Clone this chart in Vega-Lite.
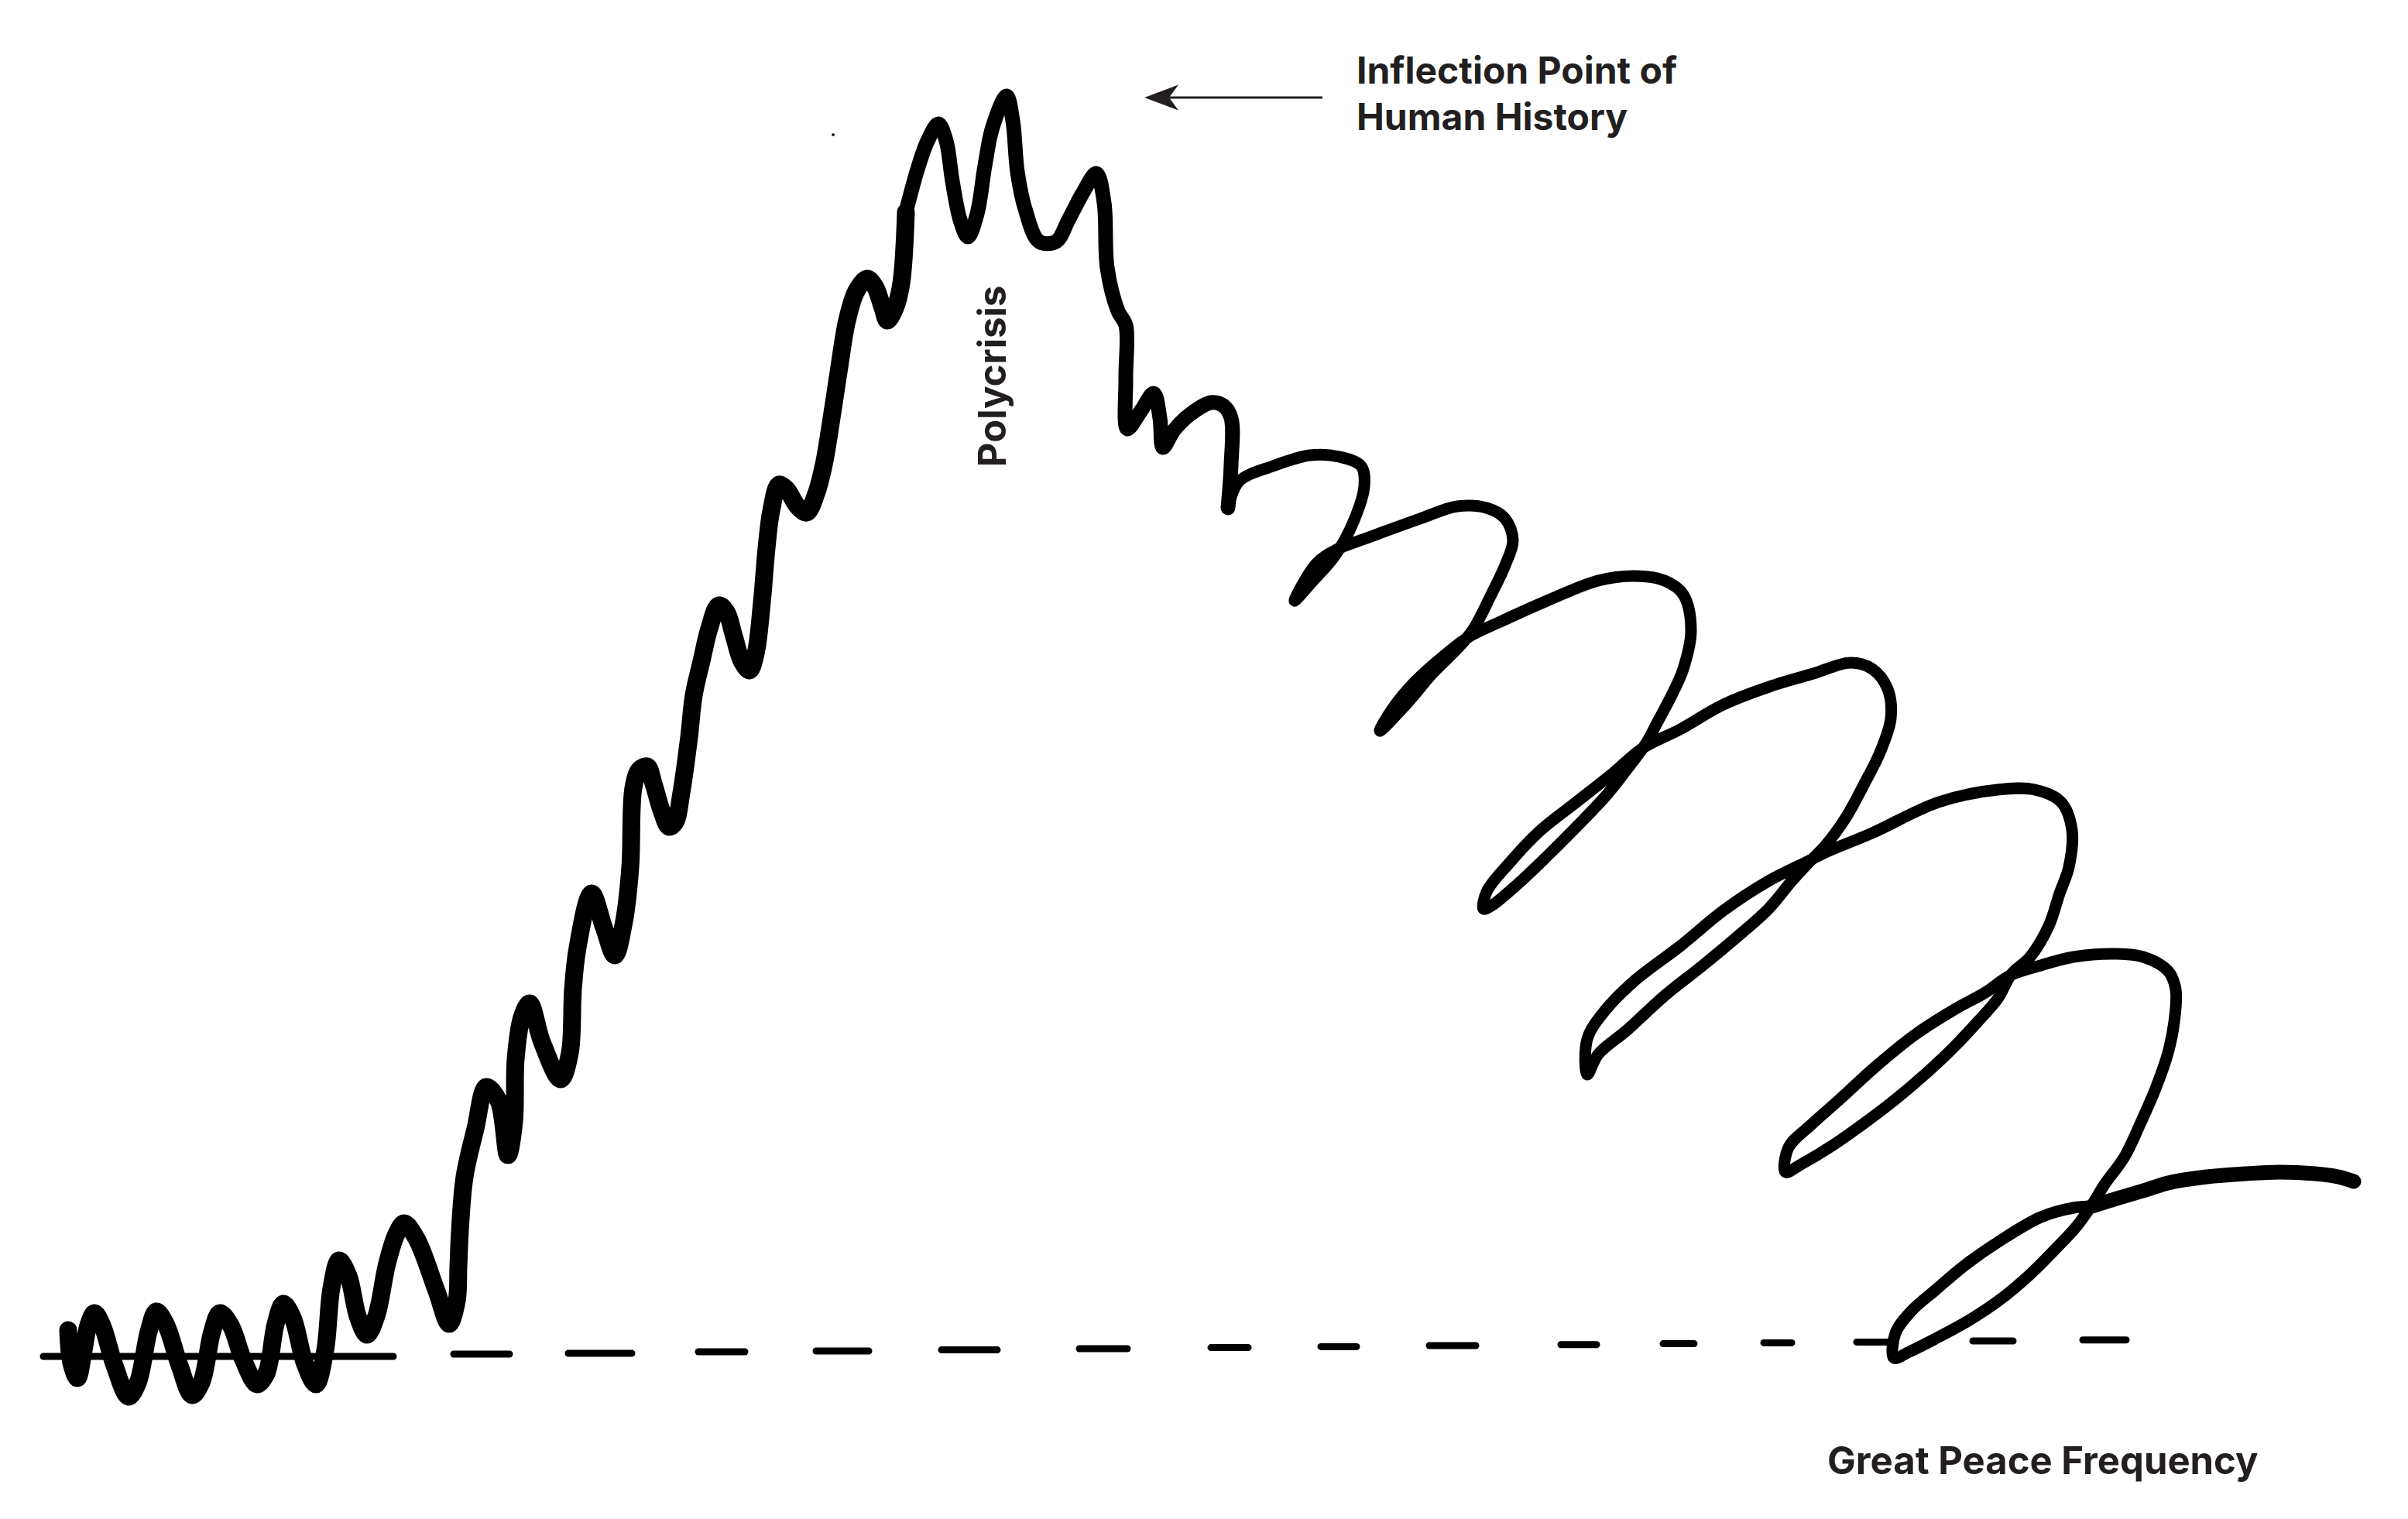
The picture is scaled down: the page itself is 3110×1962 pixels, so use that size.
{
"$schema": "https://vega.github.io/schema/vega-lite/v6.json",
"width": 3110, "height": 1962,
"autosize": {"type": "fit", "contains": "padding"},
"padding": 0,
"background": "white",
"config": {"view": {"stroke": null}},
"datasets": {
"curve": [
{"i":1,"x":44,"y":859,"s":"a"},{"i":2,"x":46,"y":880,"s":"a"},{"i":3,"x":50,"y":890,"s":"a"},{"i":4,"x":54,"y":872,"s":"a"},{"i":5,"x":57,"y":856,"s":"a"},{"i":6,"x":61,"y":848,"s":"a"},{"i":7,"x":66,"y":856,"s":"a"},{"i":8,"x":74,"y":882,"s":"a"},{"i":9,"x":83,"y":902,"s":"a"},{"i":10,"x":89,"y":893,"s":"a"},
{"i":11,"x":96,"y":860,"s":"a"},{"i":12,"x":101,"y":847,"s":"a"},{"i":13,"x":107,"y":855,"s":"a"},{"i":14,"x":116,"y":882,"s":"a"},{"i":15,"x":124,"y":901,"s":"a"},{"i":16,"x":130,"y":893,"s":"a"},{"i":17,"x":137,"y":860,"s":"a"},{"i":18,"x":142,"y":848,"s":"a"},{"i":19,"x":149,"y":856,"s":"a"},{"i":20,"x":157,"y":878,"s":"a"},
{"i":21,"x":166,"y":894,"s":"a"},{"i":22,"x":172,"y":887,"s":"a"},{"i":23,"x":178,"y":855,"s":"a"},{"i":24,"x":183,"y":842,"s":"a"},{"i":25,"x":189,"y":851,"s":"a"},{"i":26,"x":197,"y":881,"s":"a"},{"i":27,"x":204,"y":894,"s":"a"},{"i":28,"x":210,"y":872,"s":"a"},{"i":29,"x":214,"y":832,"s":"a"},{"i":30,"x":219,"y":814,"s":"a"},
{"i":31,"x":225,"y":824,"s":"a"},{"i":32,"x":231,"y":850,"s":"a"},{"i":33,"x":237,"y":862,"s":"a"},{"i":34,"x":243,"y":850,"s":"a"},{"i":35,"x":250,"y":816,"s":"a"},{"i":36,"x":256,"y":797,"s":"a"},{"i":37,"x":261,"y":790,"s":"a"},{"i":38,"x":269,"y":800,"s":"a"},{"i":39,"x":282,"y":834,"s":"a"},{"i":40,"x":290,"y":855,"s":"a"},
{"i":41,"x":295,"y":840,"s":"a"},{"i":42,"x":296,"y":818,"s":"a"},{"i":43,"x":297,"y":795,"s":"a"},{"i":44,"x":300,"y":760,"s":"a"},{"i":45,"x":307,"y":729,"s":"a"},{"i":46,"x":314,"y":702,"s":"a"},{"i":47,"x":322,"y":711,"s":"a"},{"i":48,"x":328,"y":746,"s":"a"},{"i":49,"x":332,"y":724,"s":"a"},{"i":50,"x":333,"y":684,"s":"a"},
{"i":51,"x":337,"y":657,"s":"a"},{"i":52,"x":342,"y":648,"s":"a"},{"i":53,"x":350,"y":673,"s":"a"},{"i":54,"x":362,"y":697,"s":"a"},{"i":55,"x":368,"y":680,"s":"a"},{"i":56,"x":370,"y":639,"s":"a"},{"i":57,"x":373,"y":612,"s":"a"},{"i":58,"x":382,"y":577,"s":"a"},{"i":59,"x":390,"y":599,"s":"a"},{"i":60,"x":397,"y":617,"s":"a"},
{"i":61,"x":403,"y":595,"s":"a"},{"i":62,"x":407,"y":560,"s":"a"},{"i":63,"x":409,"y":509,"s":"a"},{"i":64,"x":413,"y":497,"s":"a"},{"i":65,"x":418,"y":495,"s":"a"},{"i":66,"x":422,"y":506,"s":"a"},{"i":67,"x":427,"y":523,"s":"a"},{"i":68,"x":432,"y":534,"s":"a"},{"i":69,"x":436,"y":531,"s":"a"},{"i":70,"x":440,"y":512,"s":"a"},
{"i":71,"x":445,"y":476,"s":"a"},{"i":72,"x":448,"y":449,"s":"a"},{"i":73,"x":453,"y":427,"s":"a"},{"i":74,"x":458,"y":406,"s":"a"},{"i":75,"x":464,"y":391,"s":"a"},{"i":76,"x":469,"y":395,"s":"a"},{"i":77,"x":474,"y":411,"s":"a"},{"i":78,"x":479,"y":427,"s":"a"},{"i":79,"x":484,"y":433,"s":"a"},{"i":80,"x":488,"y":422,"s":"a"},
{"i":81,"x":492,"y":389,"s":"a"},{"i":82,"x":495,"y":354,"s":"a"},{"i":83,"x":498,"y":330,"s":"a"},{"i":84,"x":503,"y":313,"s":"a"},{"i":85,"x":508,"y":316,"s":"a"},{"i":86,"x":515,"y":327,"s":"a"},{"i":87,"x":521,"y":331,"s":"a"},{"i":88,"x":527,"y":319,"s":"a"},{"i":89,"x":532,"y":300,"s":"a"},{"i":90,"x":537,"y":270,"s":"a"},
{"i":91,"x":542,"y":237,"s":"a"},{"i":92,"x":547,"y":207,"s":"a"},{"i":93,"x":553,"y":188,"s":"a"},{"i":94,"x":560,"y":180,"s":"a"},{"i":95,"x":565,"y":185,"s":"a"},{"i":96,"x":570,"y":199,"s":"a"},{"i":97,"x":573,"y":207,"s":"a"},{"i":98,"x":578,"y":199,"s":"a"},{"i":99,"x":582,"y":183,"s":"a"},{"i":100,"x":585,"y":137,"s":"a"},
{"i":100,"x":585,"y":137,"s":"b"},{"i":101,"x":592,"y":111,"s":"b"},{"i":102,"x":599,"y":91,"s":"b"},{"i":103,"x":606,"y":80,"s":"b"},{"i":104,"x":611,"y":91,"s":"b"},{"i":105,"x":615,"y":117,"s":"b"},{"i":106,"x":620,"y":142,"s":"b"},{"i":107,"x":625,"y":153,"s":"b"},{"i":108,"x":631,"y":138,"s":"b"},{"i":109,"x":636,"y":107,"s":"b"},
{"i":110,"x":641,"y":82,"s":"b"},{"i":111,"x":650,"y":62,"s":"b"},{"i":112,"x":654,"y":78,"s":"b"},{"i":113,"x":657,"y":111,"s":"b"},{"i":114,"x":662,"y":135,"s":"b"},{"i":115,"x":671,"y":156,"s":"b"},{"i":116,"x":682,"y":156,"s":"b"},{"i":117,"x":690,"y":142,"s":"b"},{"i":118,"x":699,"y":125,"s":"b"},{"i":119,"x":708,"y":112,"s":"b"},
{"i":120,"x":713,"y":131,"s":"b"},{"i":121,"x":715,"y":173,"s":"b"},{"i":122,"x":722,"y":201,"s":"b"},{"i":123,"x":727,"y":210,"s":"b"},{"i":124,"x":727,"y":244,"s":"b"},{"i":125,"x":728,"y":277,"s":"b"},{"i":126,"x":737,"y":265,"s":"b"},{"i":127,"x":745,"y":254,"s":"b"},{"i":128,"x":749,"y":270,"s":"b"},{"i":129,"x":751,"y":289,"s":"b"},
{"i":130,"x":758,"y":278,"s":"b"},{"i":131,"x":768,"y":268,"s":"b"},{"i":132,"x":782,"y":260,"s":"b"},{"i":133,"x":790,"y":262,"s":"b"},{"i":134,"x":795,"y":270,"s":"b"},{"i":135,"x":795,"y":300,"s":"b"},{"i":136,"x":793,"y":328,"s":"b"},
{"i":136,"x":793,"y":328,"s":"c"},{"i":137,"x":800,"y":311,"s":"c"},{"i":138,"x":822,"y":301,"s":"c"},{"i":139,"x":846,"y":294,"s":"c"},{"i":140,"x":865,"y":295,"s":"c"},{"i":141,"x":879,"y":301,"s":"c"},{"i":142,"x":881,"y":314,"s":"c"},{"i":143,"x":874,"y":337,"s":"c"},{"i":144,"x":862,"y":359,"s":"c"},{"i":145,"x":848,"y":375,"s":"c"},
{"i":146,"x":836,"y":388,"s":"c"},{"i":147,"x":850,"y":364,"s":"c"},{"i":148,"x":863,"y":355,"s":"c"},{"i":149,"x":884,"y":347,"s":"c"},{"i":150,"x":917,"y":335,"s":"c"},{"i":151,"x":941,"y":327,"s":"c"},{"i":152,"x":960,"y":328,"s":"c"},{"i":153,"x":972,"y":335,"s":"c"},{"i":154,"x":977,"y":349,"s":"c"},{"i":155,"x":972,"y":365,"s":"c"},
{"i":156,"x":963,"y":384,"s":"c"},{"i":157,"x":951,"y":407,"s":"c"},{"i":158,"x":941,"y":419,"s":"c"},{"i":159,"x":925,"y":435,"s":"c"},{"i":160,"x":908,"y":455,"s":"c"},{"i":161,"x":891,"y":472,"s":"c"},{"i":162,"x":899,"y":458,"s":"c"},{"i":163,"x":913,"y":441,"s":"c"},{"i":164,"x":933,"y":423,"s":"c"},{"i":165,"x":949,"y":411,"s":"c"},
{"i":166,"x":970,"y":401,"s":"c"},{"i":167,"x":999,"y":388,"s":"c"},{"i":168,"x":1032,"y":375,"s":"c"},{"i":169,"x":1056,"y":372,"s":"c"},{"i":170,"x":1075,"y":375,"s":"c"},{"i":171,"x":1087,"y":384,"s":"c"},{"i":172,"x":1092,"y":407,"s":"c"},{"i":173,"x":1087,"y":432,"s":"c"},{"i":174,"x":1080,"y":448,"s":"c"},{"i":175,"x":1070,"y":467,"s":"c"},
{"i":176,"x":1063,"y":480,"s":"c"},{"i":177,"x":1049,"y":499,"s":"c"},{"i":178,"x":1037,"y":514,"s":"c"},{"i":179,"x":1018,"y":534,"s":"c"},{"i":180,"x":999,"y":553,"s":"c"},{"i":181,"x":980,"y":571,"s":"c"},{"i":182,"x":963,"y":585,"s":"c"},{"i":183,"x":958,"y":587,"s":"c"},{"i":184,"x":960,"y":576,"s":"c"},{"i":185,"x":975,"y":557,"s":"c"},
{"i":186,"x":994,"y":537,"s":"c"},{"i":187,"x":1018,"y":518,"s":"c"},{"i":188,"x":1042,"y":499,"s":"c"},{"i":189,"x":1061,"y":483,"s":"c"},{"i":190,"x":1085,"y":471,"s":"c"},{"i":191,"x":1113,"y":455,"s":"c"},{"i":192,"x":1147,"y":442,"s":"c"},{"i":193,"x":1171,"y":435,"s":"c"},{"i":194,"x":1195,"y":428,"s":"c"},{"i":195,"x":1209,"y":432,"s":"c"},
{"i":196,"x":1219,"y":445,"s":"c"},{"i":197,"x":1221,"y":464,"s":"c"},{"i":198,"x":1214,"y":486,"s":"c"},{"i":199,"x":1204,"y":506,"s":"c"},{"i":200,"x":1192,"y":528,"s":"c"},{"i":201,"x":1178,"y":547,"s":"c"},{"i":202,"x":1168,"y":557,"s":"c"},{"i":203,"x":1157,"y":569,"s":"c"},{"i":204,"x":1142,"y":587,"s":"c"},{"i":205,"x":1123,"y":604,"s":"c"},
{"i":206,"x":1099,"y":624,"s":"c"},{"i":207,"x":1075,"y":643,"s":"c"},{"i":208,"x":1051,"y":665,"s":"c"},{"i":209,"x":1032,"y":681,"s":"c"},{"i":210,"x":1025,"y":694,"s":"c"},{"i":211,"x":1025,"y":671,"s":"c"},{"i":212,"x":1037,"y":652,"s":"c"},{"i":213,"x":1056,"y":633,"s":"c"},{"i":214,"x":1085,"y":611,"s":"c"},{"i":215,"x":1113,"y":588,"s":"c"},
{"i":216,"x":1142,"y":569,"s":"c"},{"i":217,"x":1166,"y":557,"s":"c"},{"i":218,"x":1180,"y":550,"s":"c"},{"i":219,"x":1209,"y":538,"s":"c"},{"i":220,"x":1252,"y":518,"s":"c"},{"i":221,"x":1290,"y":510,"s":"c"},{"i":222,"x":1314,"y":510,"s":"c"},{"i":223,"x":1331,"y":518,"s":"c"},{"i":224,"x":1338,"y":536,"s":"c"},{"i":225,"x":1336,"y":560,"s":"c"},
{"i":226,"x":1330,"y":577,"s":"c"},{"i":227,"x":1323,"y":598,"s":"c"},{"i":228,"x":1311,"y":618,"s":"c"},{"i":229,"x":1299,"y":629,"s":"c"},{"i":230,"x":1290,"y":645,"s":"c"},{"i":231,"x":1277,"y":660,"s":"c"},{"i":232,"x":1262,"y":676,"s":"c"},{"i":233,"x":1244,"y":693,"s":"c"},{"i":234,"x":1224,"y":710,"s":"c"},{"i":235,"x":1203,"y":726,"s":"c"},
{"i":236,"x":1183,"y":740,"s":"c"},{"i":237,"x":1163,"y":752,"s":"c"},{"i":238,"x":1153,"y":757,"s":"c"},{"i":239,"x":1155,"y":741,"s":"c"},{"i":240,"x":1170,"y":726,"s":"c"},{"i":241,"x":1188,"y":710,"s":"c"},{"i":242,"x":1211,"y":689,"s":"c"},{"i":243,"x":1237,"y":668,"s":"c"},{"i":244,"x":1262,"y":652,"s":"c"},{"i":245,"x":1282,"y":641,"s":"c"},
{"i":246,"x":1298,"y":630,"s":"c"},{"i":247,"x":1316,"y":624,"s":"c"},{"i":248,"x":1339,"y":618,"s":"c"},{"i":249,"x":1367,"y":616,"s":"c"},{"i":250,"x":1384,"y":618,"s":"c"},{"i":251,"x":1400,"y":627,"s":"c"},{"i":252,"x":1405,"y":639,"s":"c"},{"i":253,"x":1404,"y":660,"s":"c"},{"i":254,"x":1400,"y":680,"s":"c"},{"i":255,"x":1392,"y":703,"s":"c"},
{"i":256,"x":1382,"y":726,"s":"c"},{"i":257,"x":1372,"y":747,"s":"c"},{"i":258,"x":1359,"y":765,"s":"c"},{"i":259,"x":1351,"y":778,"s":"c"},{"i":260,"x":1341,"y":792,"s":"c"},{"i":261,"x":1327,"y":807,"s":"c"},{"i":262,"x":1311,"y":823,"s":"c"},{"i":263,"x":1292,"y":839,"s":"c"},{"i":264,"x":1271,"y":853,"s":"c"},{"i":265,"x":1249,"y":865,"s":"c"},
{"i":266,"x":1233,"y":873,"s":"c"},{"i":267,"x":1223,"y":877,"s":"c"},{"i":268,"x":1224,"y":861,"s":"c"},{"i":269,"x":1234,"y":847,"s":"c"},{"i":270,"x":1250,"y":833,"s":"c"},{"i":271,"x":1269,"y":817,"s":"c"},{"i":272,"x":1292,"y":801,"s":"c"},{"i":273,"x":1318,"y":786,"s":"c"},{"i":274,"x":1339,"y":780,"s":"c"},{"i":275,"x":1351,"y":779,"s":"c"},
{"i":275,"x":1351,"y":779,"s":"d"},{"i":276,"x":1367,"y":774,"s":"d"},{"i":277,"x":1384,"y":769,"s":"d"},{"i":278,"x":1400,"y":764,"s":"d"},{"i":279,"x":1425,"y":760,"s":"d"},{"i":280,"x":1450,"y":758,"s":"d"},{"i":281,"x":1472,"y":757,"s":"d"},{"i":282,"x":1495,"y":758,"s":"d"},{"i":283,"x":1510,"y":760,"s":"d"},{"i":284,"x":1520,"y":763,"s":"d"}
],
"dashes": [
{"x":28,"x2":254,"y":876},{"x":293,"x2":329,"y":874.5},{"x":367,"x2":408,"y":874},{"x":451,"x2":481,"y":873},{"x":527,"x2":561,"y":872.5},{"x":608,"x2":644,"y":871.8},{"x":697,"x2":728,"y":871},{"x":782,"x2":806,"y":870.3},{"x":853,"x2":876,"y":869.7},{"x":923,"x2":953,"y":869},{"x":1008,"x2":1031,"y":868.4},{"x":1074,"x2":1094,"y":867.8},{"x":1139,"x2":1157,"y":867.2},{"x":1199,"x2":1220,"y":866.7},{"x":1274,"x2":1300,"y":866},{"x":1345,"x2":1373,"y":865.4}
]
},
"layer": [
{"data": {"name": "dashes"},
 "mark": {"type": "rule", "strokeWidth": 9, "strokeCap": "round", "color": "#000000"},
 "encoding": {
  "x": {"field": "x", "type": "quantitative", "scale": {"domain": [0, 1555], "nice": false, "zero": false}, "axis": null},
  "x2": {"field": "x2"},
  "y": {"field": "y", "type": "quantitative", "scale": {"domain": [0, 981], "reverse": true, "nice": false, "zero": false}, "axis": null}}},
{"data": {"name": "curve"},
 "transform": [{"filter": "datum.s === 'a'"}],
 "mark": {"type": "line", "interpolate": "catmull-rom", "strokeWidth": 23, "strokeCap": "round", "strokeJoin": "round", "color": "#000000"},
 "encoding": {
  "x": {"field": "x", "type": "quantitative", "scale": {"domain": [0, 1555], "nice": false, "zero": false}, "axis": null},
  "y": {"field": "y", "type": "quantitative", "scale": {"domain": [0, 981], "reverse": true, "nice": false, "zero": false}, "axis": null},
  "order": {"field": "i", "type": "quantitative"}}},
{"data": {"name": "curve"},
 "transform": [{"filter": "datum.s === 'b'"}],
 "mark": {"type": "line", "interpolate": "catmull-rom", "strokeWidth": 19, "strokeCap": "round", "strokeJoin": "round", "color": "#000000"},
 "encoding": {
  "x": {"field": "x", "type": "quantitative", "scale": {"domain": [0, 1555], "nice": false, "zero": false}, "axis": null},
  "y": {"field": "y", "type": "quantitative", "scale": {"domain": [0, 981], "reverse": true, "nice": false, "zero": false}, "axis": null},
  "order": {"field": "i", "type": "quantitative"}}},
{"data": {"name": "curve"},
 "transform": [{"filter": "datum.s === 'c'"}],
 "mark": {"type": "line", "interpolate": "catmull-rom", "strokeWidth": 15, "strokeCap": "round", "strokeJoin": "round", "color": "#000000"},
 "encoding": {
  "x": {"field": "x", "type": "quantitative", "scale": {"domain": [0, 1555], "nice": false, "zero": false}, "axis": null},
  "y": {"field": "y", "type": "quantitative", "scale": {"domain": [0, 981], "reverse": true, "nice": false, "zero": false}, "axis": null},
  "order": {"field": "i", "type": "quantitative"}}},
{"data": {"name": "curve"},
 "transform": [{"filter": "datum.s === 'd'"}],
 "mark": {"type": "line", "interpolate": "catmull-rom", "strokeWidth": 19, "strokeCap": "round", "strokeJoin": "round", "color": "#000000"},
 "encoding": {
  "x": {"field": "x", "type": "quantitative", "scale": {"domain": [0, 1555], "nice": false, "zero": false}, "axis": null},
  "y": {"field": "y", "type": "quantitative", "scale": {"domain": [0, 981], "reverse": true, "nice": false, "zero": false}, "axis": null},
  "order": {"field": "i", "type": "quantitative"}}},
{"data": {"values": [{}]},
 "mark": {"type": "rule", "strokeWidth": 3, "color": "#231f20"},
 "encoding": {
  "x": {"datum": 750, "type": "quantitative"},
  "x2": {"datum": 854},
  "y": {"datum": 63, "type": "quantitative"}}},
{"data": {"values": [{}]},
 "mark": {"type": "point", "shape": "M-1,0L1,-0.75L0.45,0L1,0.75Z", "size": 1936, "filled": true, "opacity": 1, "strokeWidth": 0, "color": "#231f20"},
 "encoding": {
  "x": {"datum": 750, "type": "quantitative"},
  "y": {"datum": 63, "type": "quantitative"}}},
{"data": {"values": [{}]},
 "mark": {"type": "point", "shape": "circle", "size": 14, "filled": true, "opacity": 1, "color": "#000000"},
 "encoding": {
  "x": {"datum": 538, "type": "quantitative"},
  "y": {"datum": 87, "type": "quantitative"}}},
{"data": {"values": [{}]},
 "mark": {"type": "text", "text": "Inflection Point of", "font": "Inter", "fontWeight": 700, "fontSize": 48, "align": "left", "baseline": "alphabetic", "color": "#231f20"},
 "encoding": {
  "x": {"datum": 876, "type": "quantitative"},
  "y": {"datum": 54, "type": "quantitative"}}},
{"data": {"values": [{}]},
 "mark": {"type": "text", "text": "Human History", "font": "Inter", "fontWeight": 700, "fontSize": 48, "align": "left", "baseline": "alphabetic", "color": "#231f20"},
 "encoding": {
  "x": {"datum": 876, "type": "quantitative"},
  "y": {"datum": 84, "type": "quantitative"}}},
{"data": {"values": [{}]},
 "mark": {"type": "text", "text": "Polycrisis", "font": "Inter", "fontWeight": 700, "fontSize": 49, "angle": 270, "align": "center", "baseline": "middle", "color": "#231f20"},
 "encoding": {
  "x": {"datum": 642, "type": "quantitative"},
  "y": {"datum": 243, "type": "quantitative"}}},
{"data": {"values": [{}]},
 "mark": {"type": "text", "text": "Great Peace Frequency", "font": "Inter", "fontWeight": 700, "fontSize": 49, "align": "left", "baseline": "alphabetic", "color": "#231f20"},
 "encoding": {
  "x": {"datum": 1180, "type": "quantitative"},
  "y": {"datum": 952, "type": "quantitative"}}}
]
}
